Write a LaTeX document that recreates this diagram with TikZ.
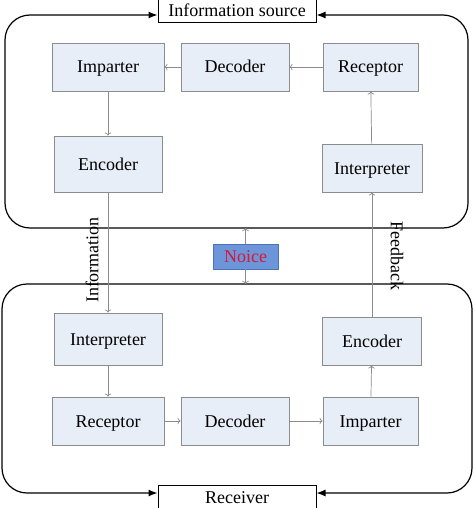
\documentclass[tikz,border=0pt]{standalone}
\usepackage{fontspec}
\setmainfont{Liberation Serif}
\usetikzlibrary{arrows.meta}
\definecolor{boxfill}{HTML}{E8EEF7}
\definecolor{boxline}{HTML}{8C8C8C}
\definecolor{noisefill}{HTML}{6C95DA}
\definecolor{noiseline}{HTML}{4E72B5}
\definecolor{noisetext}{HTML}{D8173A}
\begin{document}
\begin{tikzpicture}[x=1pt,y=-1pt,
    font=\fontsize{18}{22}\selectfont,
    stage/.style={draw=boxline,fill=boxfill,line width=.8pt,inner sep=0pt,minimum height=48pt,text height=13pt,text depth=1pt},
    party/.style={draw=black,fill=white,line width=1pt,inner sep=0pt,minimum width=158pt,minimum height=24pt,text height=13pt,text depth=1pt},
    flow/.style={boxline,line width=.7pt,->},
    loop/.style={black,line width=1.2pt,rounded corners=25pt,{Latex[length=9pt,width=7pt]}-{Latex[length=9pt,width=7pt]}}]
    \useasboundingbox (0,0) rectangle (474,508);
    \node[party] (src) at (237,11) {Information source};
    \node[party] (rcv) at (237,497) {Receiver};
    \draw[loop] ([yshift=-4pt]src.west) -- (5,15) -- (5,228) -- (468,228) -- (468,15) -- ([yshift=-4pt]src.east);
    \draw[loop] ([yshift=4pt]rcv.west) -- (2,493) -- (2,284) -- (472,284) -- (472,493) -- ([yshift=4pt]rcv.east);
    \node[stage,minimum width=112pt] (sImp) at (108,67) {Imparter};
    \node[stage,minimum width=108pt] (sDec) at (235,67) {Decoder};
    \node[stage,minimum width=95pt] (sRec) at (370.5,67) {Receptor};
    \node[stage,minimum width=108pt,minimum height=56pt] (sEnc) at (108,164) {Encoder};
    \node[stage,minimum width=100pt] (sInt) at (372,168) {Interpreter};
    \node[stage,minimum width=108pt,minimum height=52pt] (rInt) at (108,339) {Interpreter};
    \node[stage,minimum width=99pt] (rEnc) at (372,341) {Encoder};
    \node[stage,minimum width=112pt] (rRec) at (108,421) {Receptor};
    \node[stage,minimum width=108pt] (rDec) at (235,421) {Decoder};
    \node[stage,minimum width=95pt] (rImp) at (370.5,421) {Imparter};
    \node[draw=noiseline,fill=noisefill,text=noisetext,line width=.8pt,inner sep=0pt,minimum width=65pt,minimum height=25pt] (noise) at (245.5,256.5) {Noice};
    \coordinate (upper) at (245.5,228);
    \coordinate (lower) at (245.5,284);
    \draw[flow] (sRec) -- (sDec);
    \draw[flow] (sDec) -- (sImp);
    \draw[flow] (sImp) -- (sEnc);
    \draw[flow] (sInt) -- (sRec);
    \draw[flow] (sEnc) -- (rInt);
    \draw[flow] (rEnc) -- (sInt);
    \draw[flow] (rInt) -- (rRec);
    \draw[flow] (rRec) -- (rDec);
    \draw[flow] (rDec) -- (rImp);
    \draw[flow] (rImp) -- (rEnc);
    \draw[flow] (noise) -- (upper);
    \draw[flow] (noise) -- (lower);
    \node[rotate=90] (info) at (92,260) {Information};
    \node[rotate=-90] (fb) at (397,256) {Feedback};
\end{tikzpicture}
\end{document}
